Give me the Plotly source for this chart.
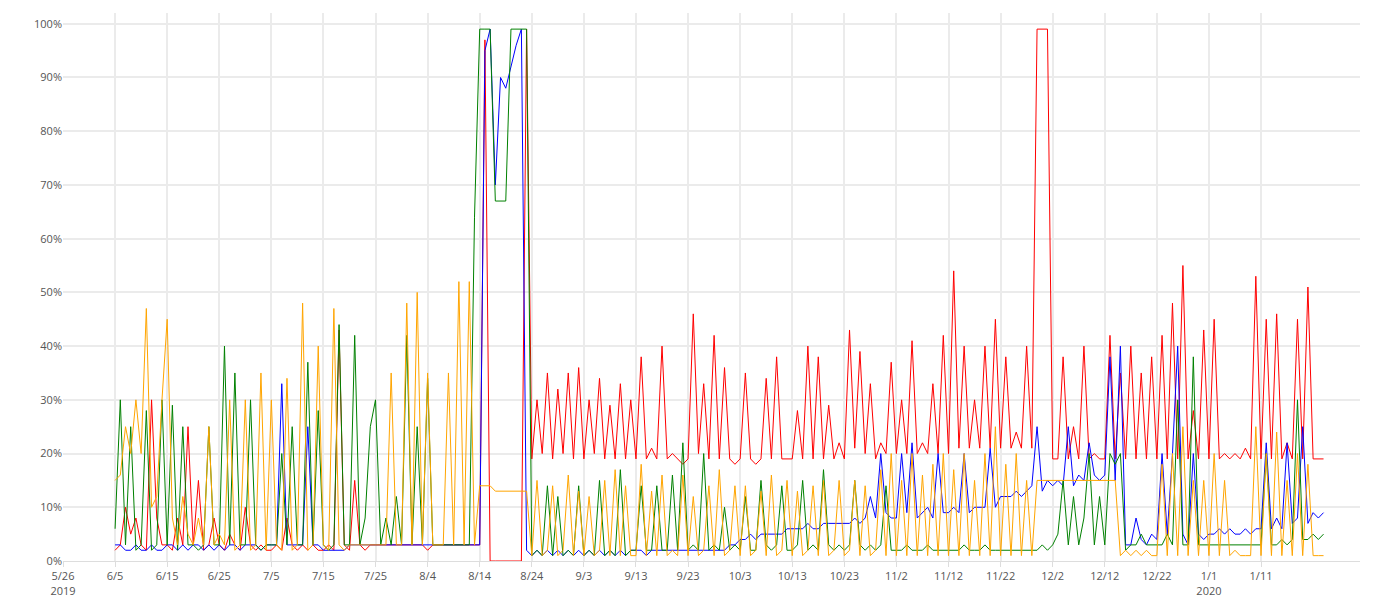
import pandas as pd
import plotly.graph_objects as go

dates = pd.date_range("2019-06-05", periods=233, freq="D")

red = [2,3,10,5,8,3,2,30,8,3, 3,2,8,3,25,3,15,2,3,8, 3,2,5,3,2,10,3,2,3,2,
       2,3,2,8,3,2,3,2,3,2, 2,3,2,43,3,2,15,3,2,3, 3,3,3,3,3,3,3,3,3,3,
       2,3,3,3,3,3,3,3,3,3, 3,97,0,0,0,0,0,0,0,99, 19,30,20,35,19,32,20,35,19,36,
       19,30,20,34,19,29,19,33,19,30, 19,38,19,21,19,40,19,20,19,18, 19,46,20,33,19,42,19,36,19,18,
       19,35,19,18,19,34,19,38,19,19, 19,28,19,40,19,38,19,29,19,22, 19,43,21,39,20,33,19,22,20,37,
       20,30,20,41,20,22,20,33,20,42, 20,54,21,40,21,30,21,40,21,45, 21,38,21,24,21,40,21,99,99,99,
       19,19,38,19,25,19,40,19,20,19, 19,42,19,35,19,40,19,35,19,38, 19,42,19,48,19,55,19,28,19,43,
       19,45,19,20,19,20,19,21,19,53, 19,45,19,46,19,22,19,45,19,51, 19,19,19]

blue = [3,3,2,2,3,2,2,3,2,2, 3,3,2,3,2,3,3,2,3,2, 3,2,3,3,2,3,3,3,2,3,
        3,3,33,3,3,3,3,25,3,3, 2,2,2,2,2,3,3,3,3,3, 3,3,3,3,3,3,3,3,3,3,
        3,3,3,3,3,3,3,3,3,3, 3,95,99,70,90,88,92,96,99,2, 1,2,1,2,1,2,1,2,1,2,
        1,2,1,2,1,2,1,2,1,2, 2,2,1,2,2,2,2,2,2,2, 2,2,2,2,2,2,2,2,3,3,
        4,4,5,4,5,5,5,5,5,6, 6,6,6,7,6,6,7,7,7,7, 7,7,8,7,8,12,8,20,9,8,
        8,20,9,22,8,9,10,8,20,9, 9,10,9,20,9,10,10,10,21,10, 12,12,12,13,12,13,14,25,13,15,
        14,15,14,25,14,16,15,22,16,15, 16,38,15,40,3,3,8,4,3,5, 4,20,5,20,40,5,3,20,5,4,
        5,5,6,5,6,5,5,6,5,6, 6,22,6,8,6,22,7,8,25,7, 9,8,9]

green = [6,30,3,25,2,3,28,2,3,30, 3,29,2,25,3,3,2,3,25,3, 3,40,3,35,3,3,30,3,2,3,
         3,3,20,3,25,3,3,37,3,28, 3,2,3,44,3,3,42,3,8,25, 30,3,8,3,12,3,42,3,25,3,
         34,3,3,3,3,3,3,3,3,64, 99,99,99,67,67,67,99,99,99,99, 1,2,1,14,1,12,1,2,1,14,
         1,2,1,15,1,2,1,17,1,2, 2,14,2,2,14,2,2,16,2,22, 2,3,2,20,2,3,2,10,2,3,
         2,12,2,2,15,3,2,3,14,2, 2,3,15,2,3,2,17,3,2,3, 2,3,15,3,2,3,2,3,14,2,
         2,2,3,2,2,2,3,2,2,2, 2,2,2,3,2,2,2,3,2,2, 2,2,2,2,2,2,2,2,3,2,
         3,5,15,3,12,3,8,20,3,12, 3,20,18,20,2,3,3,5,3,3, 3,3,5,3,30,3,3,38,3,3,
         3,3,3,3,3,3,3,3,3,3, 3,20,3,3,4,3,4,30,4,4, 5,4,5]

orange = [15,16,25,20,30,20,47,10,12,30, 45,8,3,12,5,3,8,3,25,3, 5,3,30,2,3,30,2,3,35,2,
          30,3,2,34,2,3,48,2,3,40, 3,2,47,3,2,3,3,3,3,3, 3,3,3,35,3,3,48,3,50,3,
          35,3,3,3,35,3,52,3,52,3, 14,14,14,13,13,13,13,13,13,13, 1,15,1,2,14,1,2,16,1,13,
          1,12,1,2,15,1,17,1,14,1, 1,18,1,13,1,16,1,2,1,16, 1,12,1,2,14,1,17,1,2,14,
          1,14,1,2,13,1,16,1,2,15, 1,13,1,2,14,1,15,1,2,15, 1,2,15,1,14,1,2,17,1,20,
          1,15,1,20,1,16,1,18,1,20, 1,17,1,20,1,15,1,20,1,25, 1,18,1,20,1,15,1,15,15,15,
          15,15,15,15,15,15,15,15,15,15, 15,15,15,1,2,1,2,1,2,1, 1,18,1,20,1,25,1,15,1,15,
          1,20,1,15,1,2,1,1,1,25, 1,20,1,24,1,15,1,20,1,18, 1,1,1]

tick_dates = pd.date_range("2019-05-26", periods=24, freq="10D")
tick_labels = [d.strftime("%-m/%-d") for d in tick_dates]
tick_labels[0] = "5/26<br>2019"
tick_labels[22] = "1/1<br>2020"

fig = go.Figure()
for name, vals, col in [("red", red, "red"), ("blue", blue, "blue"),
                        ("green", green, "green"), ("orange", orange, "orange")]:
    fig.add_trace(go.Scatter(x=dates, y=[v / 100 for v in vals], mode="lines",
                             name=name, line=dict(color=col, width=1)))

fig.update_layout(
    width=1365, height=595, showlegend=False,
    margin=dict(l=55, r=13, t=5, b=42, autoexpand=False),
    plot_bgcolor="white", paper_bgcolor="white",
    font=dict(family="Open Sans", size=11, color="#555"),
)
fig.update_xaxes(range=["2019-05-26", "2020-01-30"], tickvals=tick_dates, ticktext=tick_labels,
                 showgrid=True, gridcolor="#ebebeb", gridwidth=2, zeroline=False,
                 showline=True, linecolor="#ddd", ticks="outside", ticklen=5, tickcolor="#ddd")
fig.update_yaxes(range=[0, 1.02], tickformat=".0%", dtick=0.1,
                 showgrid=True, gridcolor="#ebebeb", gridwidth=2, zeroline=False)
fig.write_html("out.html")
